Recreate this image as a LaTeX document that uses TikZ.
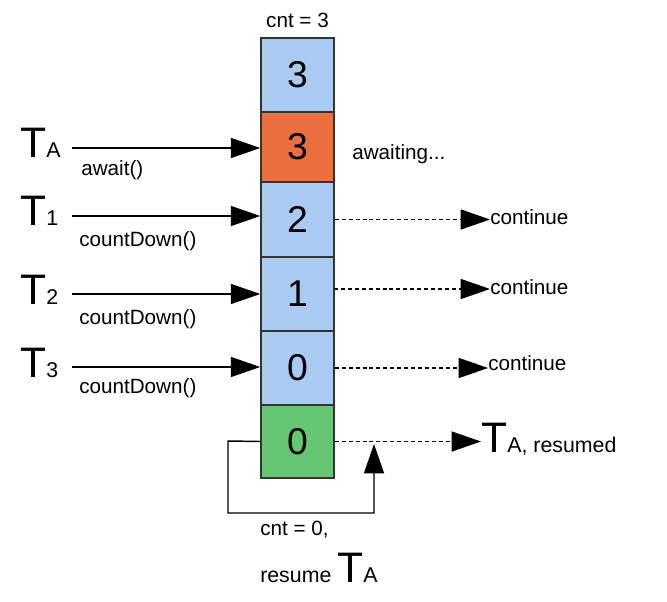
\documentclass[tikz,border=0pt]{standalone}
\usepackage{fontspec}
\setmainfont{Liberation Sans}
\usetikzlibrary{arrows.meta}
\begin{document}
\begin{tikzpicture}[x=0.75pt,y=-0.75pt,
 cell/.style={draw=black!80,line width=1.2pt,minimum width=73*0.75pt,inner sep=0pt,font=\fontsize{28}{28}\selectfont},
 arr/.style={line width=1.1pt,-{Triangle[length=22pt,width=15pt]}},
 dar/.style={arr,dash pattern=on 3pt off 2.2pt},
 lbl/.style={font=\fontsize{15.5}{15.5}\selectfont,inner sep=0pt},
 T/.style={font=\fontsize{32}{32}\selectfont,inner sep=0pt}]
\useasboundingbox (0,0) rectangle (667,602);
\definecolor{cb}{HTML}{A9CBF1}\definecolor{co}{HTML}{EB6F3E}\definecolor{cg}{HTML}{66C772}
\node[cell,fill=cb,minimum height=74*0.75pt] (c1) at (297.5,75) {3};
\node[cell,fill=co,minimum height=70*0.75pt] (c2) at (297.5,147) {3};
\node[cell,fill=cb,minimum height=75*0.75pt] (c3) at (297.5,219.5) {2};
\node[cell,fill=cb,minimum height=74*0.75pt] (c4) at (297.5,294) {1};
\node[cell,fill=cb,minimum height=74*0.75pt] (c5) at (297.5,368) {0};
\node[cell,fill=cg,minimum height=73*0.75pt] (c6) at (297.5,441.5) {0};
\node[lbl] (cnt) at (297.5,20) {cnt = 3};
\node[lbl,anchor=west] (aw) at (352,154) {awaiting...};
\node[T,anchor=base west] (ta) at (20,158) {T{\fontsize{16}{16}\selectfont A}};
\node[T,anchor=base west] (t1) at (20,226) {T{\fontsize{16}{16}\selectfont 1}};
\node[T,anchor=base west] (t2) at (20,304) {T{\fontsize{16}{16}\selectfont 2}};
\node[T,anchor=base west] (t3) at (20,377) {T{\fontsize{16}{16}\selectfont 3}};
\coordinate (sa) at (72,148);\coordinate (s1) at (72,216);\coordinate (s2) at (72,294);\coordinate (s3) at (72,367);
\draw[arr] (sa) -- (sa -| c2.west);
\draw[arr] (s1) -- (s1 -| c3.west);
\draw[arr] (s2) -- (s2 -| c4.west);
\draw[arr] (s3) -- (s3 -| c5.west);
\node[lbl,anchor=west] at (81,170) {await()};
\node[lbl,anchor=west] at (79,241) {countDown()};
\node[lbl,anchor=west] at (79,319) {countDown()};
\node[lbl,anchor=west] at (79,388) {countDown()};
\node[lbl,anchor=west] (o1) at (490,217) {continue};
\node[lbl,anchor=west] (o2) at (490,287) {continue};
\node[lbl,anchor=west] (o3) at (488,363) {continue};
\node[T,anchor=base west] (tr) at (481,452) {T{\fontsize{16}{16}\selectfont A, resumed}};
\draw[dar] (c3.east) -- (o1.west |- c3.east);
\draw[dar] (334,289) -- (o2.west |- 0,289);
\draw[dar] (c5.east) -- (o3.west |- c5.east);
\draw[dar] (c6.east) -- (tr.west |- c6.east);
\coordinate (l1) at (228,441);\coordinate (l2) at (228,513);\coordinate (l3) at (374,513);\coordinate (l4) at (374,444);
\draw[arr] (c6.west) -- (l1) -- (l2) -- (l3) -- (l4);
\node[lbl,anchor=west] at (260,530) {cnt = 0,};
\node[T,anchor=base west] at (260,582) {{\fontsize{16}{16}\selectfont resume }T{\fontsize{16}{16}\selectfont A}};
\end{tikzpicture}
\end{document}
